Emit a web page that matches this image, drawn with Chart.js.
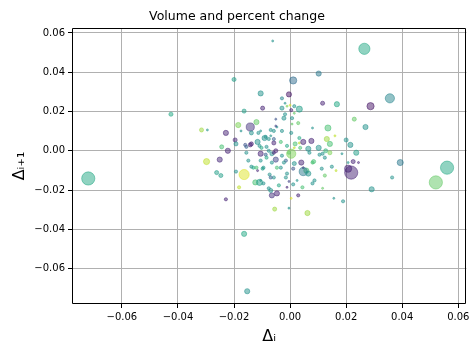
<!DOCTYPE html>
<html><head><meta charset="utf-8">
<script src="https://cdn.jsdelivr.net/npm/chart.js@4.4.0/dist/chart.umd.min.js"></script>
<style>html,body{margin:0;padding:0;background:#fff}#wrap{width:474px;height:355px}</style>
</head><body><div id="wrap"><canvas id="c" width="474" height="355"></canvas></div>
<script>
const titleText = "Volume and percent change";
const xTicks = [-0.06, -0.04, -0.02, 0.00, 0.02, 0.04, 0.06];
const yTicks = [-0.06, -0.04, -0.02, 0.00, 0.02, 0.04, 0.06];
// Δ_i
const deltaI = [-0.0720,-0.0425,-0.0062,0.0265,0.0102,-0.0200,0.0011,-0.0105,-0.0004,-0.0029,0.0356,0.0116,0.0167,0.0287,-0.0098,-0.0029,0.0015,0.0033,-0.0011,0.0004,
-0.0164,0.0229,-0.0120,-0.0051,-0.0022,-0.0316,-0.0295,-0.0142,-0.0185,-0.0047,0.0029,0.0080,0.0135,0.0269,-0.0229,-0.0196,-0.0244,-0.0222,-0.0251,-0.0298,
-0.0262,-0.0247,-0.0229,-0.0164,-0.0182,-0.0124,-0.0109,-0.0138,-0.0193,-0.0160,-0.0142,-0.0116,-0.0091,-0.0069,-0.0058,-0.0033,-0.0105,-0.0087,-0.0065,-0.0051,
-0.0029,-0.0015,0.0004,0.0018,0.0036,0.0076,0.0102,0.0127,0.0142,0.0200,0.0215,0.0236,0.0185,0.0105,0.0084,0.0040,0.0015,0.0047,0.0011,0.0058,
0.0047,0.0065,0.0218,0.0207,0.0225,0.0244,0.0207,0.0393,0.0364,0.0291,0.0560,0.0520,0.0156,0.0189,0.0116,0.0062,0.0029,0.0004,-0.0004,-0.0055,
-0.0047,-0.0065,-0.0069,-0.0011,-0.0004,-0.0105,-0.0015,-0.0095,-0.0116,-0.0073,-0.0047,0.0025,0.0087,0.0124,0.0164,-0.0164,-0.0153,0.0131,0.0160,0.0142,
0.0149,0.0124,0.0000,-0.0018,-0.0018,0.0015,-0.0105,-0.0069,-0.0051,-0.0138,-0.0113,-0.0087,-0.0058,-0.0051,0.0015,0.0033,0.0047,0.0065,-0.0193,-0.0109,
-0.0084,-0.0156,-0.0105,-0.0084,-0.0065,-0.0098,-0.0058,-0.0033,-0.0022,-0.0011,-0.0040,-0.0095,-0.0076,-0.0131,-0.0149,0.0044,0.0011,-0.0011,-0.0102,-0.0076,
-0.0058,-0.0004,0.0007,0.0007,-0.0029,-0.0058,0.0004,0.0033,-0.0076,-0.0175,-0.0138,-0.0156,-0.0120,0.0080,0.0113,0.0080,0.0116,0.0069,-0.0069];
// Δ_{i+1}
const deltaNext = [-0.0141,0.0186,0.0559,0.0519,0.0393,0.0363,0.0358,0.0292,0.0287,0.0267,0.0267,0.0242,0.0237,0.0227,0.0217,0.0217,0.0227,0.0212,0.0227,0.0207,
0.0202,0.0161,0.0146,0.0161,0.0166,0.0106,0.0106,0.0121,0.0131,0.0121,0.0141,0.0116,0.0116,0.0121,0.0091,0.0055,0.0020,0.0000,-0.0045,-0.0055,
-0.0111,-0.0126,-0.0247,-0.0121,-0.0186,-0.0161,-0.0161,-0.0081,0.0035,0.0030,0.0030,0.0045,0.0065,0.0076,0.0040,0.0045,-0.0015,-0.0020,-0.0015,-0.0045,
-0.0025,-0.0050,-0.0015,0.0035,0.0015,0.0050,0.0015,0.0000,-0.0010,0.0055,0.0030,-0.0010,-0.0015,-0.0020,-0.0055,-0.0060,-0.0065,-0.0086,-0.0091,-0.0101,
-0.0106,-0.0116,-0.0111,-0.0091,-0.0055,-0.0060,-0.0060,-0.0060,-0.0136,-0.0196,-0.0086,-0.0161,-0.0242,-0.0257,-0.0191,-0.0317,-0.0227,-0.0242,-0.0292,-0.0297,
-0.0217,-0.0227,-0.0202,-0.0186,-0.0156,-0.0151,-0.0136,-0.0086,-0.0101,-0.0121,-0.0086,-0.0151,-0.0151,-0.0126,-0.0101,-0.0423,-0.0715,0.0060,0.0076,0.0035,
-0.0081,-0.0035,0.0232,0.0242,0.0186,0.0191,0.0101,0.0106,0.0126,0.0091,0.0091,0.0071,0.0060,0.0000,0.0015,0.0040,0.0045,0.0010,-0.0106,0.0025,
0.0020,0.0020,-0.0050,-0.0035,-0.0060,-0.0091,-0.0136,-0.0086,-0.0060,-0.0116,-0.0176,-0.0166,-0.0191,-0.0086,-0.0050,-0.0186,-0.0171,0.0025,0.0015,0.0000,
-0.0010,-0.0010,0.0166,0.0136,0.0101,0.0101,0.0091,0.0065,0.0060,0.0101,0.0035,-0.0010,-0.0086,-0.0060,-0.0091,-0.0166,-0.0015,-0.0010,-0.0136];
// relative trading volume (marker area)
const volume = [49,6,2,36,9,6,16,9,9,4,25,6,9,16,6,6,4,12,2,4,
6,6,9,2,6,6,2,20,9,2,4,2,12,9,9,6,6,9,9,12,
6,6,4,30,4,9,12,4,6,4,6,9,9,2,6,4,9,4,6,9,
4,4,25,6,4,9,9,6,6,6,9,9,2,4,6,9,6,2,4,9,
20,9,49,16,6,2,2,12,4,9,49,49,2,4,2,9,4,2,2,6,
9,9,6,2,2,2,4,4,2,4,4,2,4,4,2,9,9,9,2,9,
4,4,2,2,4,2,2,4,2,6,4,4,4,6,2,2,9,9,4,4,
4,4,4,4,4,4,4,4,4,4,4,4,4,4,4,4,4,4,4,4,
4,4,4,2,4,4,4,4,4,2,6,4,4,4,4,4,4,4,4];
// close-to-open ratio (colour)
const colorValue = [0.6,0.6,0.5,0.6,0.4,0.55,0.35,0.5,0.05,0.45,0.45,0.1,0.6,0.05,0.1,0.5,0.5,0.55,0.8,0.1,
0.55,0.75,0.75,0.25,0.5,0.85,0.5,0.15,0.8,0.5,0.75,0.5,0.7,0.5,0.1,0.1,0.7,0.1,0.12,0.9,
0.55,0.55,0.1,0.95,0.9,0.7,0.55,0.5,0.5,0.25,0.1,0.5,0.5,0.5,0.1,0.7,0.1,0.3,0.5,0.2,
0.5,0.3,0.8,0.7,0.7,0.1,0.5,0.65,0.8,0.5,0.5,0.55,0.5,0.5,0.7,0.1,0.5,0.05,0.25,0.7,
0.4,0.5,0.1,0.1,0.1,0.1,0.5,0.4,0.5,0.5,0.6,0.75,0.5,0.5,0.75,0.85,0.1,0.95,0.5,0.85,
0.1,0.15,0.5,0.1,0.2,0.5,0.5,0.5,0.1,0.5,0.7,0.5,0.5,0.75,0.9,0.6,0.5,0.85,0.9,0.7,
0.5,0.5,0.95,0.5,0.5,0.75,0.5,0.5,0.2,0.5,0.5,0.5,0.3,0.1,0.9,0.9,0.1,0.5,0.5,0.5,
0.5,0.3,0.5,0.6,0.5,0.55,0.5,0.5,0.5,0.5,0.6,0.5,0.5,0.6,0.5,0.7,0.5,0.6,0.6,0.5,
0.1,0.75,0.5,0.75,0.5,0.5,0.5,0.6,0.5,0.5,0.1,0.5,0.7,0.7,0.5,0.5,0.5,0.5,0.3];

const viridisStops = ['#440154','#482475','#414487','#355f8d','#2a788e','#21918c','#22a884','#44bf70','#7ad151','#bddf26','#fde725'];
function hexRgb(h){return [parseInt(h.slice(1,3),16),parseInt(h.slice(3,5),16),parseInt(h.slice(5,7),16)];}
function viridis(t, a){
  t = Math.max(0, Math.min(1, t));
  const p = t*10, i = Math.min(9, Math.floor(p)), f = p - i;
  const c0 = hexRgb(viridisStops[i]), c1 = hexRgb(viridisStops[i+1]);
  const c = c0.map((v,k)=>Math.round(v + (c1[k]-v)*f));
  return `rgba(${c[0]},${c[1]},${c[2]},${a})`;
}
const points = deltaI.map((x,i)=>({x:x, y:deltaNext[i]}));
const fmt = v => (Math.abs(v) < 1e-9 ? '0.00' : v.toFixed(2).replace('-', '\u2212'));

// axes spines (all four sides, crisp)
const frame = {
  id:'frame',
  afterDraw(chart){
    const {ctx, chartArea:a} = chart;
    ctx.save(); ctx.strokeStyle='#000'; ctx.lineWidth=1;
    const l = Math.round(a.left)+0.5, t = Math.round(a.top)+0.5, r = Math.round(a.right)-0.5, b = Math.round(a.bottom)-0.5;
    ctx.beginPath();
    ctx.moveTo(l, t); ctx.lineTo(r, t); ctx.lineTo(r, b); ctx.lineTo(l, b); ctx.closePath();
    ctx.stroke();
    ctx.restore();
  }
};

new Chart(document.getElementById('c'), {
  type:'scatter',
  data:{datasets:[{
    data: points,
    pointRadius: ctx => Math.max(1, Math.sqrt(volume[ctx.dataIndex]) - 0.4),
    pointBackgroundColor: ctx => viridis(colorValue[ctx.dataIndex], 0.5),
    pointBorderColor: ctx => viridis(colorValue[ctx.dataIndex], 0.5),
    pointBorderWidth: 1,
    pointHoverRadius: ctx => Math.max(1, Math.sqrt(volume[ctx.dataIndex]) - 0.4)
  }]},
  options:{
    responsive:false, animation:false, events:[],
    layout:{padding:{left:0,right:0,top:0,bottom:0}},
    plugins:{
      legend:{display:false}, tooltip:{enabled:false},
      title:{display:true, text:titleText, color:'#000', font:{family:'DejaVu Sans', size:12.5, weight:'normal'}, padding:{top:9,bottom:4}}
    },
    scales:{
      x:{
        type:'linear', min:-0.0778, max:0.0629,
        afterBuildTicks: s => { s.ticks = xTicks.map(v=>({value:v})); },
        afterFit: s => { s.height = 51; },
        ticks:{color:'#000', font:{family:'DejaVu Sans', size:10}, padding:3, maxRotation:0, callback: v => fmt(v)},
        grid:{color:'#b0b0b0', lineWidth:1, tickColor:'#000', tickLength:4, drawTicks:true},
        border:{display:false},
        title:{display:true, text:'\u0394\u1d62', color:'#000', font:{family:'DejaVu Sans', size:16}, padding:{top:0,bottom:9}}
      },
      y:{
        type:'linear', min:-0.078, max:0.0625,
        afterBuildTicks: s => { s.ticks = yTicks.map(v=>({value:v})); },
        afterFit: s => { s.width = 72; },
        ticks:{color:'#000', font:{family:'DejaVu Sans', size:10}, padding:3, callback: v => fmt(v)},
        grid:{color:'#b0b0b0', lineWidth:1, tickColor:'#000', tickLength:4, drawTicks:true},
        border:{display:false},
        title:{display:true, text:'\u0394\u1d62\u208a\u2081', color:'#000', font:{family:'DejaVu Sans', size:16}, padding:{top:10,bottom:0}}
      }
    }
  },
  plugins:[frame]
});
</script></body></html>
